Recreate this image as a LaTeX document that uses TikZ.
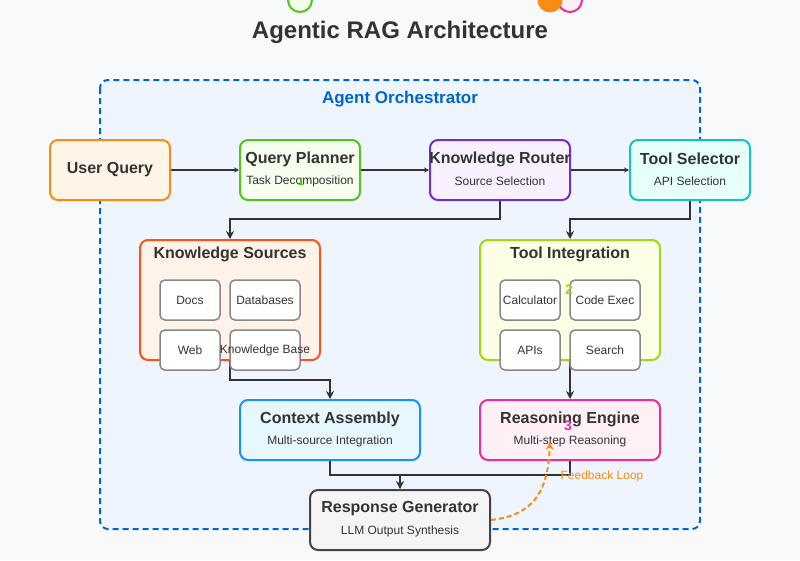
\documentclass[tikz,border=0pt]{standalone}
\usepackage{fontspec}
\setmainfont{Liberation Sans}
\usepackage{tikz}
\usetikzlibrary{arrows.meta}

\definecolor{bgcol}{HTML}{F8F9FA}
\definecolor{txt}{HTML}{333333}
\definecolor{orchline}{HTML}{0066CC}
\definecolor{orchfill}{HTML}{EEF5FE}
\definecolor{uqline}{HTML}{FA8C16}
\definecolor{uqfill}{HTML}{FFF5E6}
\definecolor{qpline}{HTML}{52C41A}
\definecolor{qpfill}{HTML}{F6FFED}
\definecolor{krline}{HTML}{722ED1}
\definecolor{krfill}{HTML}{F9F0FF}
\definecolor{tsline}{HTML}{13C2C2}
\definecolor{tsfill}{HTML}{E6FFFB}
\definecolor{ksline}{HTML}{FA541C}
\definecolor{ksfill}{HTML}{FFF2E8}
\definecolor{tiline}{HTML}{A0D911}
\definecolor{tifill}{HTML}{FCFFE6}
\definecolor{caline}{HTML}{1890FF}
\definecolor{cafill}{HTML}{E6F7FF}
\definecolor{reline}{HTML}{EB2F96}
\definecolor{refill}{HTML}{FFF0F6}
\definecolor{rgline}{HTML}{444444}
\definecolor{rgfill}{HTML}{F5F5F5}
\definecolor{itemline}{HTML}{888888}

\begin{document}
\begin{tikzpicture}[x=1pt,y=-1pt,
    box/.style={draw, line width=2pt, rounded corners=8pt, inner sep=0pt},
    item/.style={draw=itemline, fill=white, line width=1.5pt, rounded corners=5pt,
      minimum width=60pt, minimum height=40pt, inner sep=0pt},
    itemtxt/.style={text=txt, font=\fontsize{12}{14}\selectfont, inner sep=0pt},
    ttl/.style={text=txt, font=\fontsize{16}{18}\selectfont\bfseries, inner sep=0pt},
    sub/.style={text=txt, font=\fontsize{12}{14}\selectfont, inner sep=0pt},
    conn/.style={draw=txt, line width=2pt},
    tip/.style={-{Stealth[length=8pt,width=8pt]}}]
    \useasboundingbox (0,0) rectangle (800,560);
    \fill[bgcol] (0,0) rectangle (800,560);
    % decoration circles at the top
    \draw[qpline, fill=qpfill, line width=2pt] (300,0) circle (12);
    \draw[reline, fill=refill, line width=2pt] (570,0) circle (12);
    \fill[uqline] (550,0) circle (12.5);
    \node[text=txt, font=\fontsize{24}{28}\selectfont\bfseries] (title) at (400,32) {Agentic RAG Architecture};
    % orchestrator frame
    \draw[orchline, fill=orchfill, line width=2pt, dash pattern=on 6pt off 4pt, rounded corners=8pt] (100,80) rectangle (700,529);
    \node[text=orchline, font=\fontsize{17}{20}\selectfont\bfseries] (orch) at (400,99) {Agent Orchestrator};
    % main boxes
    \node[box, draw=uqline, fill=uqfill, minimum width=120pt, minimum height=60pt] (uq) at (110,170) {};
    \node[ttl] at (uq.center) {User Query};
    \node[box, draw=qpline, fill=qpfill, minimum width=120pt, minimum height=60pt] (qp) at (300,170) {};
    \node[ttl] at (300,159) {Query Planner};
    \node[sub] at (300,181) {Task Decomposition};
    \node[box, draw=krline, fill=krfill, minimum width=140pt, minimum height=60pt] (kr) at (500,170) {};
    \node[ttl] at (500,159) {Knowledge Router};
    \node[sub] at (500,181) {Source Selection};
    \node[box, draw=tsline, fill=tsfill, minimum width=120pt, minimum height=60pt] (ts) at (690,170) {};
    \node[ttl] at (690,159) {Tool Selector};
    \node[sub] at (690,181) {API Selection};
    \node[box, draw=ksline, fill=ksfill, minimum width=180pt, minimum height=120pt] (ks) at (230,300) {};
    \node[ttl] at (230,254) {Knowledge Sources};
    \node[box, draw=tiline, fill=tifill, minimum width=180pt, minimum height=120pt] (ti) at (570,300) {};
    \node[ttl] at (570,254) {Tool Integration};
    \node[box, draw=caline, fill=cafill, minimum width=180pt, minimum height=60pt] (ca) at (330,430) {};
    \node[ttl] at (330,419) {Context Assembly};
    \node[sub] at (330,441) {Multi-source Integration};
    \node[box, draw=reline, fill=refill, minimum width=180pt, minimum height=60pt] (re) at (570,430) {};
    \node[ttl] at (570,419) {Reasoning Engine};
    \node[sub] at (570,441) {Multi-step Reasoning};
    \node[box, draw=rgline, fill=rgfill, minimum width=180pt, minimum height=60pt] (rg) at (400,520) {};
    \node[ttl] at (400,509) {Response Generator};
    \node[sub] at (400,531) {LLM Output Synthesis};
    % connectors
    \draw[conn, -{Stealth[length=5pt,width=5pt]}] (uq.east) -- (qp.west);
    \draw[conn, -{Stealth[length=5pt,width=5pt]}] (qp.east) -- (kr.west);
    \draw[conn, -{Stealth[length=5pt,width=5pt]}] (kr.east) -- (ts.west);
    \draw[conn, tip] (kr.south) -- (500,219) -| (ks.north);
    \draw[conn, tip] (ts.south) -- (690,219) -| (ti.north);
    \draw[conn, tip] (ks.south) -- (230,380) -| (ca.north);
    \draw[conn, tip] (ti.south) -- (re.north);
    \coordinate (join) at (400,475);
    \draw[conn] (ca.south) |- (join) -| (re.south);
    \draw[conn, tip] (join) -- (rg.north);
    % items
    \node[item] (docs) at (190,300) {};
    \node[itemtxt] at (docs) {Docs};
    \node[item, minimum width=70pt] (db) at (265,300) {};
    \node[itemtxt] at (db) {Databases};
    \node[item] (web) at (190,350) {};
    \node[itemtxt] at (web) {Web};
    \node[item, minimum width=70pt] (kb) at (265,350) {};
    \node[itemtxt] at (kb) {Knowledge Base};
    \node[item] (calc) at (530,300) {};
    \node[itemtxt] at (calc) {Calculator};
    \node[item, minimum width=70pt] (code) at (605,300) {};
    \node[itemtxt] at (code) {Code Exec};
    \node[item] (apis) at (530,350) {};
    \node[itemtxt] at (apis) {APIs};
    \node[item, minimum width=70pt] (search) at (605,350) {};
    \node[itemtxt] at (search) {Search};
    % feedback loop
    \draw[uqline, line width=2pt, dash pattern=on 5pt off 3pt, -{Stealth[length=8pt,width=8pt]}]
      (rg.east) .. controls (535,515) and (548,490) .. (550,442);
    \node[text=uqline, font=\fontsize{12}{14}\selectfont] (fb) at (602,476) {Feedback Loop};
    % step numbers
    \node[text=qpline, font=\fontsize{11}{13}\selectfont\bfseries] (n1) at (301,182) {1};
    \node[text=tiline, font=\fontsize{14}{16}\selectfont\bfseries] (n2) at (569,290) {2};
    \node[text=reline, font=\fontsize{14}{16}\selectfont\bfseries] (n3) at (568,426) {3};
\end{tikzpicture}
\end{document}
